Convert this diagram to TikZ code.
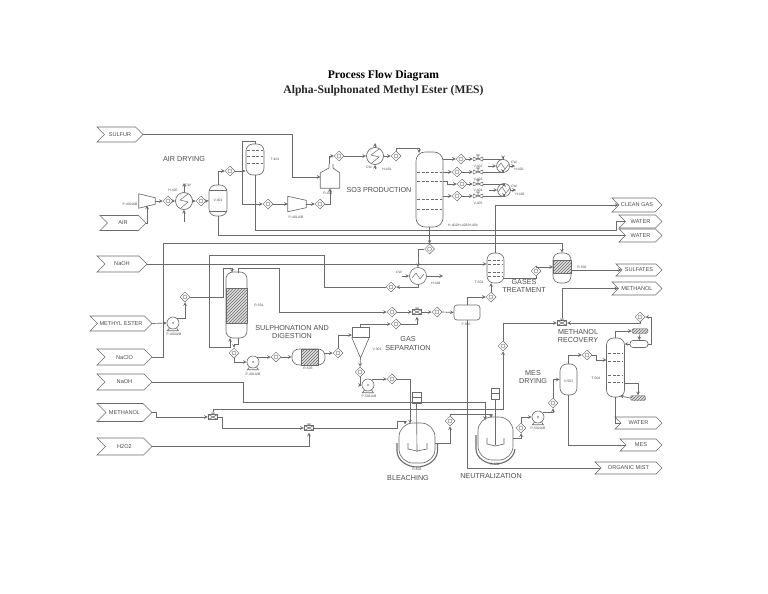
\documentclass[tikz,border=0pt]{standalone}
\usepackage{fontspec}
\setmainfont{Liberation Serif}
\setsansfont{Liberation Sans}
\usetikzlibrary{shapes.geometric,shapes.symbols,patterns}
\newcommand{\linew}{.65pt}
\newcommand{\pumpbase}[1]{\draw[equip] (#1.235) -- ++(-2,2.5) -- ++(11,0) -- (#1.305);}
\newcommand{\compbody}[1]{\draw[equip] (#1.north west) -- (#1.south west) -- ([yshift=4pt]#1.south east) -- ([yshift=-4pt]#1.north east) -- cycle;}
\definecolor{pfdline}{gray}{.42}
\definecolor{pfdtext}{gray}{.3}
\tikzset{
  equip/.style={draw=pfdline, line width=\linew},
  flow/.style={draw=pfdline, line width=\linew, ->, >=stealth},
  plain/.style={draw=pfdline, line width=\linew},
  tag/.style={signal, signal to=east, signal from=west, draw=pfdline, line width=\linew, fill=white, inner sep=0pt, minimum height=15pt, text=pfdtext, font=\sffamily\fontsize{5.6}{6}\selectfont},
  instr/.style={diamond, draw=pfdline, line width=.5pt, fill=white, inner sep=0pt, minimum size=10pt, path picture={\draw[pfdline, line width=.4pt] (path picture bounding box.center) circle (2pt);}},
  hxa/.style={circle, draw=pfdline, line width=.7pt, fill=white, inner sep=0pt, minimum size=17pt, path picture={\draw[pfdline, line width=.5pt, shift={(path picture bounding box.center)}] (4,-7) -- (-4,-1) -- (4,1) -- (-3,7);}},
  hxb/.style={circle, draw=pfdline, line width=.6pt, fill=white, inner sep=0pt, minimum size=13pt, path picture={\draw[pfdline, line width=.5pt, shift={(path picture bounding box.center)}] (-6,2) -- (-2,-3) -- (2,3) -- (6,-2);}},
  pump/.style={circle, draw=pfdline, line width=\linew, fill=white, inner sep=0pt, minimum size=12pt, path picture={\fill[pfdline] (path picture bounding box.center) circle (.9pt);}},
  valve/.style={inner sep=0pt, minimum width=10pt, minimum height=9pt, path picture={\draw[pfdline, line width=.6pt, shift={(path picture bounding box.center)}] (-5,-2) -- (5,2) -- (5,-2) -- (-5,2) -- cycle (0,0) -- (0,-4) (-2,-4) -- (2,-4);}},
  valvebox/.style={inner sep=0pt, minimum width=10pt, minimum height=9pt, path picture={\draw[pfdline, line width=.6pt, shift={(path picture bounding box.center)}] (-4.5,-2.5) rectangle (4.5,2.5) (-4.5,-2.5) -- (4.5,2.5) (-4.5,2.5) -- (4.5,-2.5) (0,-2.5) -- (0,-4) (-2,-4) -- (2,-4);}},
  vessel/.style={draw=pfdline, line width=\linew, fill=white, inner sep=0pt, rounded corners=7pt},
  bed/.style={preaction={fill=gray!25}, pattern=north east lines, pattern color=pfdline, draw=pfdline, line width=.4pt, inner sep=0pt},
  comp/.style={inner sep=0pt},
  tray/.style={draw=pfdline, line width=.5pt, dash pattern=on 3pt off 1.5pt},
  section/.style={align=center, text=pfdtext, font=\sffamily\fontsize{7.2}{8.2}\selectfont},
  small/.style={text=pfdtext, font=\sffamily\fontsize{3.4}{4}\selectfont, inner sep=0pt},
}

\begin{document}
\begin{tikzpicture}[x=1pt,y=-1pt]
        \useasboundingbox (0,0) rectangle (768,594);

          % titles
        \node (title1) at (383.5,76) [font=\bfseries\fontsize{11.6}{13}\selectfont] {Process Flow Diagram};
        \node (title2) at (383.5,91) [text=black!85, font=\bfseries\fontsize{11.6}{13}\selectfont] {Alpha-Sulphonated Methyl Ester (MES)};

          % streams in
        \node (sulfur) at (120,134.5) [tag, minimum width=46pt] {SULFUR};
        \node (air) at (123,223) [tag, minimum width=46pt] {AIR};
        \node (naoha) at (122,264) [tag, minimum width=50pt, minimum height=16pt] {NaOH};
        \node (mester) at (121,323.5) [tag, minimum width=62pt] {METHYL ESTER};
        \node (naclo) at (124.5,357) [tag, minimum width=55pt, minimum height=16pt] {NaClO};
        \node (naohb) at (124.5,382) [tag, minimum width=55pt, minimum height=16pt] {NaOH};
        \node (meoh) at (124.5,412.5) [tag, minimum width=55pt, minimum height=18pt] {METHANOL};
        \node (perox) at (124.5,446.5) [tag, minimum width=55pt, minimum height=17pt] {H2O2};

          % streams out
        \node (cleangas) at (637,205) [tag, minimum width=50pt, minimum height=14pt] {CLEAN GAS};
        \node (watera) at (640.5,221.5) [tag, minimum width=43pt, minimum height=13pt] {WATER};
        \node (waterb) at (640.5,235.5) [tag, minimum width=43pt, minimum height=13pt] {WATER};
        \node (sulfates) at (639,270) [tag, minimum width=46pt, minimum height=12pt] {SULFATES};
        \node (meohout) at (637,288.5) [tag, minimum width=50pt, minimum height=13pt] {METHANOL};
        \node (waterc) at (638.5,423) [tag, minimum width=47pt, minimum height=12pt] {WATER};
        \node (mes) at (641,445) [tag, minimum width=42pt, minimum height=12pt] {MES};
        \node (mist) at (628.5,468) [tag, minimum width=67pt, minimum height=12pt] {ORGANIC MIST};

          % air drying and SO3
        \node (p402) at (147,201) [comp, minimum width=16pt, minimum height=14pt] {};
        \node (hx405) at (184,201) [hxa] {};
        \node (v401) at (218,200.5) [vessel, minimum width=18pt, minimum height=31pt] {};
        \node (t401) at (255,159.5) [vessel, minimum width=18pt, minimum height=31pt] {};
        \node (p401) at (297,204) [comp, minimum width=18pt, minimum height=15pt] {};
        \node (r401) at (330,180.5) [inner sep=0pt, minimum width=19pt, minimum height=15pt] {};
        \node (hx401) at (375,156) [hxa] {};
        \node (t402) at (429.5,189.5) [vessel, rounded corners=9pt, minimum width=27pt, minimum height=75pt] {};
        \node (hx402) at (503,166) [hxb] {};
        \node (hx403) at (504,190) [hxb] {};
        \node (hx404) at (418,276) [hxb, minimum size=17pt] {};

        \node (va1) at (478,159) [valve] {};
        \node (va2) at (478,172) [valve] {};
        \node (va3) at (478,184) [valve] {};
        \node (va4) at (478,196) [valve] {};

        \node (dm1) at (168,201) [instr] {};
        \node (dm2) at (201,201) [instr] {};
        \node (dm3) at (230,171) [instr] {};
        \node (dm4) at (268,204) [instr] {};
        \node (dm5) at (320,204) [instr] {};
        \node (dm6) at (339,156) [instr] {};
        \node (dm7) at (396,156) [instr] {};
        \node (dm8) at (461,159) [instr] {};
        \node (dm9) at (457,172) [instr] {};
        \node (dm10) at (462,184) [instr] {};
        \node (dm11) at (457,196) [instr] {};
        \node (dm12) at (429.5,249) [instr] {};
        \node (dm13) at (391,287) [instr] {};

          % gases treatment
        \node (t503) at (495.5,268) [vessel, minimum width=17pt, minimum height=30pt] {};
        \node (t502) at (562,268) [vessel, minimum width=18pt, minimum height=30pt] {};
        \node (bed502) at (562,266.5) [bed, minimum width=18pt, minimum height=13pt] {};
        \node (dm15) at (536,271) [instr] {};
        \node (dm16) at (491,297) [instr] {};

          % sulphonation
        \node (r501) at (236.5,305) [vessel, minimum width=21pt, minimum height=66pt] {};
        \node (bed501) at (236.5,305.5) [bed, minimum width=21pt, minimum height=35pt] {};
        \node (p403) at (173,323) [pump] {};
        \node (p404) at (253,362) [pump] {};
        \node (r502) at (308.5,357) [vessel, minimum width=33pt, minimum height=16pt] {};
        \node (bed503) at (309.5,357) [bed, minimum width=17pt, minimum height=16pt] {};
        \node (dm20) at (185,297) [instr] {};
        \node (dm21) at (234,353) [instr] {};
        \node (dm22) at (276,357) [instr] {};
        \node (dm23) at (338,353) [instr] {};

          % gas separation
        \node (v301) at (360.5,332) [draw=pfdline, line width=\linew, inner sep=0pt, minimum width=17pt, minimum height=10pt] {};
        \node (p301) at (368,385) [pump] {};
        \node (v402) at (467,312.5) [vessel, rounded corners=3pt, minimum width=26pt, minimum height=15pt] {};
        \node (vb1) at (417,312) [valvebox] {};
        \node (dm17) at (437,312) [instr] {};
        \node (dm18) at (392,312) [instr] {};
        \node (dm19) at (396,324) [instr] {};
        \node (dm24) at (360,372) [instr] {};
        \node (dm25) at (392,379) [instr] {};

          % bleaching and neutralization
        \node (r601) at (417,443) [vessel, rounded corners=14pt, minimum width=36pt, minimum height=40pt] {};
        \node (m601) at (416.5,397.5) [draw=pfdline, line width=\linew, fill=white, inner sep=0pt, minimum width=9pt, minimum height=11pt] {};
        \node (r604) at (495.5,438.5) [vessel, rounded corners=14pt, minimum width=35pt, minimum height=43pt] {};
        \node (m604) at (495.5,393.5) [draw=pfdline, line width=\linew, fill=white, inner sep=0pt, minimum width=8pt, minimum height=11pt] {};
        \node (vb2) at (213,417) [valvebox] {};
        \node (vb3) at (309,428) [valvebox] {};
        \node (dm28) at (450,421) [instr] {};
        \node (dm29) at (521,428) [instr] {};

          % MES drying and methanol recovery
        \node (p502) at (538,417) [pump] {};
        \node (v503) at (568.5,379.5) [vessel, minimum width=17pt, minimum height=31pt] {};
        \node (t504) at (615.5,367.5) [vessel, minimum width=18pt, minimum height=59pt] {};
        \node (e501) at (640,331) [bed, rounded corners=1.5pt, minimum width=16pt, minimum height=5pt] {};
        \node (d501) at (639,344) [vessel, rounded corners=3pt, minimum width=18pt, minimum height=7pt] {};
        \node (e502) at (638,398) [bed, rounded corners=1.5pt, minimum width=15pt, minimum height=5pt] {};
        \node (vb4) at (562,323) [valvebox] {};
        \node (dm26) at (503,346) [instr] {};
        \node (dm27) at (640,317) [instr] {};
        \node (dm30) at (553,403) [instr] {};
        \node (dm31) at (587,355) [instr] {};

          % ports
        \coordinate (p402in) at (147,205.5);
        \coordinate (hx405top) at (184,183);
        \coordinate (hx405bot) at (184,222);
        \coordinate (r401in) at (320.5,177);
        \coordinate (r401out) at (329,164);
        \coordinate (r401outb) at (333,164);
        \coordinate (hx401top) at (375,143);
        \coordinate (hx401bot) at (375,169);
        \coordinate (t402in) at (419,153);
        \coordinate (t402outc) at (443,181);
        \coordinate (hx402l) at (488,166);
        \coordinate (hx402r) at (515,166);
        \coordinate (hx403l) at (489,190);
        \coordinate (hx403r) at (516,190);
        \coordinate (hx404l) at (402,276);
        \coordinate (hx404r) at (443,276);
        \coordinate (t503bot) at (491,283);
        \coordinate (t503out) at (504,278);
        \coordinate (t502in) at (553,267);
        \coordinate (r501ina) at (232,272.5);
        \coordinate (r501inb) at (230,338);
        \coordinate (r501out) at (238,272.5);
        \coordinate (r501bot) at (238,338);
        \coordinate (p403out) at (177,318);
        \coordinate (p404out) at (257,357);
        \coordinate (p301out) at (372,379);
        \coordinate (p502out) at (543,412);
        \coordinate (v301in) at (352,335);
        \coordinate (v301tip) at (360.5,358);
        \coordinate (r601ina) at (410,423.5);
        \coordinate (r601inb) at (405,424.5);
        \coordinate (r604ina) at (485,420);
        \coordinate (r604inb) at (491,418);
        \coordinate (t504in) at (606.5,360);
        \coordinate (t504ref) at (624.5,344);
        \coordinate (t504out) at (624.5,383);
        \coordinate (t504ret) at (620,396);

        \compbody{p402}
        \compbody{p401}
        \draw[equip] (r401.north west) -- (r401.south west) -- (r401.south east) -- (r401.north east) -- (333,168) -- (r401outb);
        \draw[equip] (r401.north west) -- (329,168) -- (r401out);
        \draw[equip] (v301.south west) -- (v301tip) -- (v301.south east);

          % air drying and SO3 lines
        \draw[flow] (sulfur.east) -| (292,177) -- (r401in);
        \draw[flow] (air.east) -| (p402in);
        \draw[flow] (p402.east) -- (dm1.west);
        \draw[flow] (dm1.east) -- (hx405.west);
        \draw[flow] (hx405.east) -- (dm2.west);
        \draw[flow] (dm2.east) -- (v401.west);
        \draw[flow] (hx405bot) -- (hx405.south);
        \draw[flow] (hx405.north) -- (hx405top);
        \draw[flow] (v401.north) |- (dm3.west);
        \draw[flow] (dm3.east) -- (t401.west |- dm3.east);
        \draw[flow] (t401.north) |- (242,141) |- (dm4.west);
        \draw[plain] (t401.south) |- (616,230) |- (watera.west);
        \draw[plain] (v401.south) |- (waterb.west);
        \draw[flow] (dm4.east) -- (p401.west |- dm4.east);
        \draw[flow] (p401.east) -- (dm5.west);
        \draw[flow] (dm5.east) -| (r401.south);
        \draw[flow] (r401out) |- (dm6.west);
        \draw[flow] (dm6.east) -- (hx401.west);
        \draw[flow] (hx401.east) -- (dm7.west);
        \draw[flow] (hx401bot) -- (hx401.south);
        \draw[flow] (hx401.north) -- (hx401top);
        \draw[flow] (dm7.north) |- (419,148) -- (t402in);
        \draw[flow] (t402.east |- dm8.west) -- (dm8.west);
        \draw[flow] (dm8.east) -- (va1.west);
        \draw[flow] (va1.east) -| (hx402.north);
        \draw[flow] (t402.east |- dm9.west) -- (dm9.west);
        \draw[flow] (dm9.east) -- (va2.west);
        \draw[flow] (va2.east) -| (hx402.south);
        \draw[flow] (t402outc) -- (447,181) |- (dm10.west);
        \draw[flow] (dm10.east) -- (va3.west);
        \draw[flow] (va3.east) -| (hx403.north);
        \draw[flow] (t402.east |- dm11.west) -- (dm11.west);
        \draw[flow] (dm11.east) -- (va4.west);
        \draw[flow] (va4.east) -| (hx403.south);
        \draw[flow] (hx402l) -- (hx402.west);
        \draw[flow] (hx402.east) -- (hx402r);
        \draw[flow] (hx403l) -- (hx403.west);
        \draw[flow] (hx403.east) -- (hx403r);
        \draw[flow] (hx404l) -- (hx404.west);
        \draw[flow] (hx404.east) -- (hx404r);
        \draw[flow] (t402.south) -- (dm12.north);
        \draw[flow] (dm12.west) -| (hx404.north);
        \draw[flow] (hx404.south) |- (dm13.east);
        \draw[flow] (dm13.west) -| (324,255) -| (209,347) -| (r501inb);

          % gases treatment lines
        \draw[flow] (naclo.east) -| (163,243) -| (t502.north);
        \draw[flow] (naoha.east) -- (t503.west |- naoha.east);
        \draw[flow] (t503.north) |- (cleangas.west);
        \draw[plain] (t503out) -| (dm15.south);
        \draw[flow] (dm15.north) |- (t502in);
        \draw[flow] (t502.east |- sulfates.west) -- (sulfates.west);
        \draw[flow] (dm16.north) -- (t503bot);
        \draw[flow] (v402.north) |- (dm16.west);

          % sulphonation lines
        \draw[flow] (mester.east) -- (p403.west);
        \draw[flow] (p403out) -| (dm20.south);
        \draw[flow] (dm20.east) -| (223,268) -| (r501ina);
        \draw[flow] (r501out) |- (279,268) |- (dm18.west);
        \draw[flow] (r501bot) -- (238,344) -| (dm21.north);
        \draw[flow] (dm21.south) |- (p404.west);
        \draw[flow] (p404out) -- (dm22.west);
        \draw[flow] (dm22.east) -- (r502.west |- dm22.east);
        \draw[flow] (r502.east |- dm23.west) -- (dm23.west);
        \draw[flow] (dm23.north) |- (v301in);

          % gas separation lines
        \draw[flow] (v301.north) |- (dm19.west);
        \draw[flow] (dm18.east) -- (vb1.west);
        \draw[flow] (dm19.east) -| (vb1.south);
        \draw[flow] (vb1.east) -- (dm17.west);
        \draw[flow] (dm17.east) -- (v402.west);
        \draw[flow] (v301tip) -- (dm24.north);
        \draw[flow] (dm24.south) |- (p301.west);
        \draw[flow] (p301out) -- (dm25.west);
        \draw[flow] (dm25.east) -| (r601ina);
        \draw[plain] (v402.south) |- (mist.west);

          % bleaching and neutralization lines
        \draw[flow] (naohb.east) -| (243,402) -| (r604ina);
        \draw[flow] (meoh.east) -| (156,417) -- (vb2.west);
        \draw[flow] (vb2.north) |- (503,409) -- (dm26.south);
        \draw[flow] (vb2.east) -| (222,428) -- (vb3.west);
        \draw[flow] (perox.east) -| (vb3.south);
        \draw[flow] (vb3.east) -| (397,421) -| (r601inb);
        \draw[flow] (r601.east) -| (dm28.south);
        \draw[flow] (dm28.north) |- (491,414) -- (r604inb);
        \draw[flow] (r604.east) -| (dm29.south);
        \draw[flow] (dm29.north) |- (p502.west);
        \draw[flow] (p502out) -| (dm30.south);

          % MES drying and recovery lines
        \draw[flow] (dm30.north) |- (v503.west);
        \draw[flow] (v503.north) |- (dm31.west);
        \draw[flow] (dm31.east) -| (596,360) -- (t504in);
        \draw[plain] (v503.south) |- (mes.west);
        \draw[flow] (t504.north) |- (e501.west);
        \draw[flow] (e501.south) -- (d501.north);
        \draw[flow] (d501.west) -- (t504ref);
        \draw[flow] (d501.east) -| (651,317) -- (dm27.east);
        \draw[flow] (dm27.south) |- (vb4.east);
        \draw[flow] (dm26.north) |- (vb4.west);
        \draw[flow] (vb4.north) |- (meohout.west);
        \draw[flow] (t504out) -| (e502.north);
        \draw[flow] (e502.west) -- (t504ret);
        \draw[plain] (t504.south) |- (waterc.west);

          % inside the equipment
        \draw[equip] (209,190) -- (227,190);
        \draw[equip] (209,211) -- (227,211);
        \draw[tray] (247,150) -- (263,150);
        \draw[tray] (247,156) -- (263,156);
        \draw[tray] (247,163) -- (263,163);
        \draw[tray] (417,172) -- (442,172);
        \draw[tray] (417,181) -- (442,181);
        \draw[tray] (417,199) -- (442,199);
        \draw[tray] (417,209) -- (442,209);
        \draw[tray] (488,260) -- (503,260);
        \draw[tray] (488,264) -- (503,264);
        \draw[tray] (488,272) -- (503,272);
        \draw[tray] (488,276) -- (503,276);
        \draw[tray] (608,353) -- (623,353);
        \draw[tray] (608,361) -- (623,361);
        \draw[tray] (608,375) -- (623,375);
        \draw[tray] (608,382) -- (623,382);

          % pumps
        \pumpbase{p403}
        \pumpbase{p404}
        \pumpbase{p301}
        \pumpbase{p502}

          % agitators
        \draw[equip] (m601.south) -- (417,452);
        \draw[equip] (412,397.5) -- (421,397.5);
        \draw[equip] (408,443) -- (408,449) -- (417,451) -- (427,449) -- (427,443);
        \draw[equip, line width=1.1pt] (397,443) -- (397,451) .. controls (397,461) and (408,467) .. (417,467) .. controls (426,467) and (437,461) .. (437.5,451) -- (437.5,443);
        \draw[equip] (m604.south) -- (495.5,445);
        \draw[equip] (491.5,393.5) -- (499.5,393.5);
        \draw[equip] (487,438) -- (487,444) -- (495.5,446) -- (504,444) -- (504,438);
        \draw[equip, line width=1.1pt] (476,435) -- (476,449) .. controls (476,458) and (486,464) .. (495,464) .. controls (505,464) and (514,458) .. (515,449);

          % section names
        \node (secair) at (184,159) [section] {AIR DRYING};
        \node (secso) at (379,190) [section] {SO3 PRODUCTION};
        \node (secgas) at (524,286) [section] {GASES\\TREATMENT};
        \node (secsul) at (292,332) [section] {SULPHONATION AND\\DIGESTION};
        \node (secsep) at (408,343.5) [section] {GAS\\SEPARATION};
        \node (secmes) at (533,377) [section] {MES\\DRYING};
        \node (secrec) at (578,336) [section] {METHANOL\\RECOVERY};
        \node (secble) at (408,478) [section] {BLEACHING};
        \node (secneu) at (491,476) [section] {NEUTRALIZATION};

          % small labels
        \node (lb1) at (130,204) [small] {P-402A/B};
        \node (lb2) at (173,190) [small] {H-405};
        \node (lb3) at (188,185) [small] {CW};
        \node (lb4) at (218,200.5) [small] {V-401};
        \node (lb5) at (275,159) [small] {T-401};
        \node (lb6) at (296,217) [small] {P-401A/B};
        \node (lb7) at (328,193) [small] {R-401};
        \node (lb8) at (369,167) [small] {CW};
        \node (lb9) at (387,169) [small] {H-401};
        \node (lb10) at (463,225) [small] {H-402/H-403/H-404};
        \node (lb11) at (519,169) [small] {H-402};
        \node (lb12) at (514,162) [small] {CW};
        \node (lb13) at (520,194) [small] {H-403};
        \node (lb14) at (514,186) [small] {CW};
        \node (lb15) at (478,166) [small] {V-402};
        \node (lb16) at (478,179) [small] {V-403};
        \node (lb17) at (478,190) [small] {V-404};
        \node (lb18) at (478,203) [small] {V-405};
        \node (lb19) at (399,272) [small] {CW};
        \node (lb20) at (436,283) [small] {H-404};
        \node (lb21) at (479,282) [small] {T-503};
        \node (lb22) at (582,267) [small] {R-502};
        \node (lb23) at (259,305) [small] {R-501};
        \node (lb24) at (174,334) [small] {P-403A/B};
        \node (lb25) at (253,374) [small] {P-401A/B};
        \node (lb26) at (308,368.5) [small] {R-503};
        \node (lb27) at (377,349) [small] {V-301};
        \node (lb28) at (369,396) [small] {P-501A/B};
        \node (lb29) at (466,324) [small] {F-502};
        \node (lb30) at (417,469) [small] {R-603};
        \node (lb31) at (495,464.5) [small] {R-604};
        \node (lb32) at (538,428) [small] {P-502A/B};
        \node (lb33) at (568.5,381) [small] {V-503};
        \node (lb34) at (596,378) [small] {T-504};

\end{tikzpicture}
\end{document}
